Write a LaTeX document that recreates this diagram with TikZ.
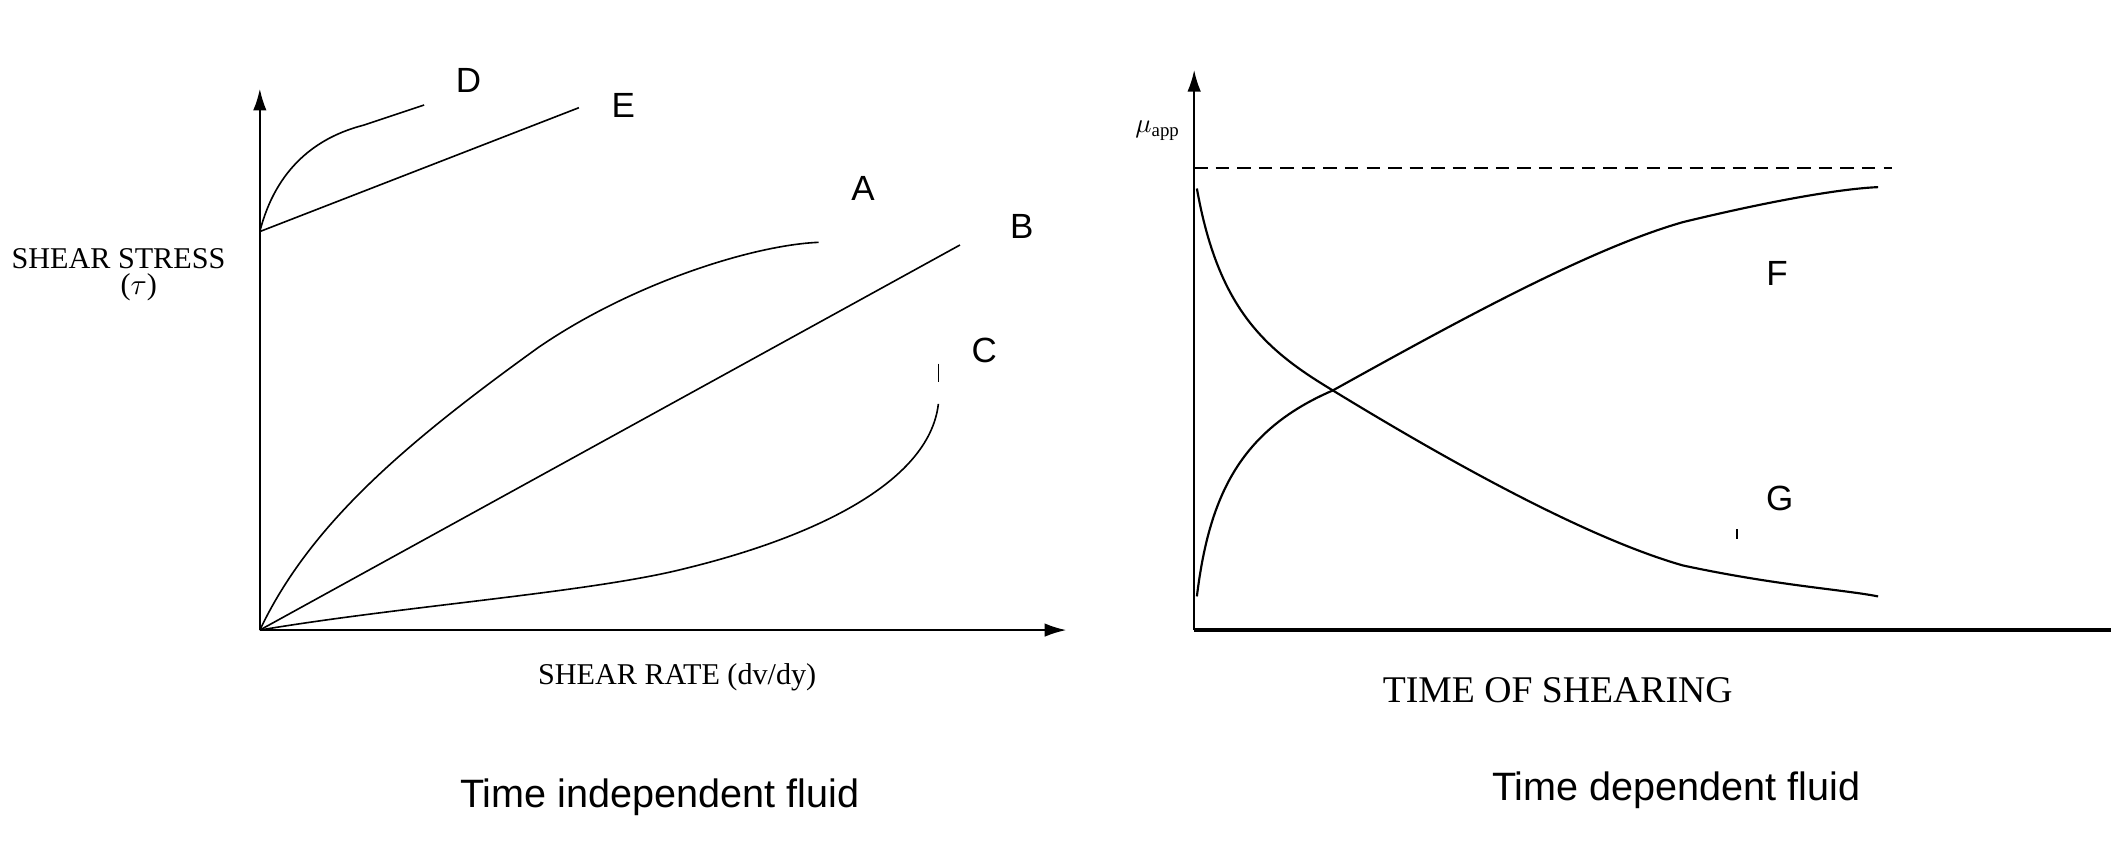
\documentclass[tikz,border=0pt]{standalone}
\usepackage{fontspec}
\setmainfont{Liberation Serif}
\newfontfamily\lsans{Liberation Sans}
\begin{document}
\begin{tikzpicture}[x=0.5pt,y=-0.5pt,
  lab/.style={font=\lsans\fontsize{13}{15}\selectfont},
  captxt/.style={font=\lsans\fontsize{14.7}{17}\selectfont},
  ser/.style={font=\fontsize{11.2}{13}\selectfont},
  crv/.style={line width=0.6pt},
  ax/.style={line width=0.7pt,-{Latex[length=8pt,width=5pt]}}]
\useasboundingbox (0,0) rectangle (1568,631);
\usetikzlibrary{arrows.meta}
% left
\coordinate (O1) at (193,468);
\coordinate (Y1) at (193,66);
\coordinate (X1) at (792,468);
\draw[ax] (O1) -- (Y1);
\draw[ax] (O1) -- (X1);
\coordinate (S) at (193,172);
\draw[crv] (S) .. controls (205,125) and (235,102) .. (270,93) -- (315,78);
\draw[crv] (S) -- (430,80);
\draw[crv] (O1) .. controls (230,390) and (300,330) .. (400,258) .. controls (470,210) and (560,182) .. (608,180);
\draw[crv] (O1) -- (713,182);
\draw[crv] (O1) .. controls (300,450) and (440,440) .. (510,422) .. controls (600,400) and (690,360) .. (697,300);
\draw[crv] (697,270) -- (697,284);
\node[lab] (D) at (348,60) {D};
\node[lab] (E) at (463,78) {E};
\node[lab] (A) at (641,140) {A};
\node[lab] (B) at (759,168) {B};
\node[lab] (C) at (731,260) {C};
\node[ser] (ss) at (88,192) {SHEAR STRESS};
\node[ser] (tau) at (103,213) {($\tau$)};
\node[ser] (sr) at (503,503) {SHEAR RATE (dv/dy)};
\node[captxt] (t1) at (490,592) {Time independent fluid};
% right
\coordinate (O2) at (887,468);
\coordinate (Y2) at (887,52);
\coordinate (X2) at (1568,468);
\draw[ax] (O2) -- (Y2);
\draw[line width=1.4pt] (O2) -- (X2);
\draw[dashed,line width=0.9pt,dash pattern=on 5pt off 3pt] (887,125) -- (1405,125);
\draw[crv,line width=0.8pt] (889,443) .. controls (898,370) and (920,320) .. (990,290) .. controls (1080,240) and (1180,185) .. (1250,165) .. controls (1320,148) and (1370,140) .. (1395,139);
\draw[crv,line width=0.8pt] (889,140) .. controls (905,230) and (940,260) .. (990,290) .. controls (1080,345) and (1180,400) .. (1250,420) .. controls (1320,435) and (1370,438) .. (1395,443);
\draw[crv] (1290,393) -- (1290,400);
\node[lab] (F) at (1320,203) {F};
\node[lab] (G) at (1322,370) {G};
\node[font=\fontsize{10}{12}\selectfont] (mu) at (860,97) {$\mu_{\mathrm{app}}$};
\node[font=\fontsize{14}{16}\selectfont] (ts) at (1157,513) {TIME OF SHEARING};
\node[captxt] (t2) at (1245,587) {Time dependent fluid};
\end{tikzpicture}
\end{document}
